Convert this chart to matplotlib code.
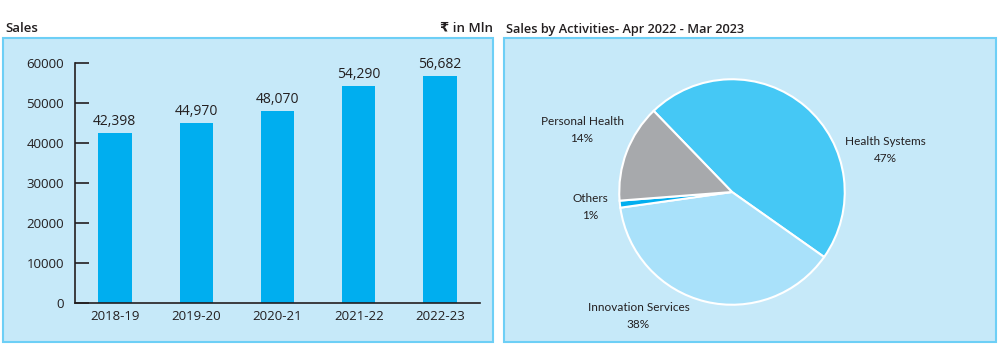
import matplotlib

matplotlib.use("Agg")
import matplotlib.pyplot as plt
from matplotlib.patches import Rectangle

# Sales data (Rs in Mln)
years = ["2018-19", "2019-20", "2020-21", "2021-22", "2022-23"]
sales = [42398, 44970, 48070, 54290, 56682]
yticks = [0, 10000, 20000, 30000, 40000, 50000, 60000]

# Sales by activities
segments = ["Health Systems", "Innovation Services", "Others", "Personal Health"]
shares = [47, 38, 1, 14]

W, H = 1000, 349
FONT = ["Open Sans", "DejaVu Sans"]
TXT = "#231F20"
PANEL = "#C6E9F9"
EDGE = "#6DCFF6"

plt.rcParams["font.family"] = FONT
fig = plt.figure(figsize=(W / 100, H / 100), dpi=100)


def fx(px):
    return px / W


def fy(py):
    return 1 - py / H


# panel backgrounds
for x0, x1 in [(3, 493), (504, 996)]:
    fig.patches.append(Rectangle((fx(x0), fy(342)), fx(x1 - x0), (342 - 38) / H,
                                 transform=fig.transFigure, facecolor=PANEL,
                                 edgecolor=EDGE, linewidth=1.5, zorder=-5))

fig.text(fx(5), fy(29), "Sales", fontsize=9.5, color=TXT, va="center", ha="left",
         weight="semibold")
fig.text(fx(493), fy(29), "₹ in Mln", fontsize=9.5, color=TXT, va="center", ha="right",
         weight="semibold")
fig.text(fx(506), fy(29), "Sales by Activities- Apr 2022 - Mar 2023", fontsize=9.2,
         color=TXT, va="center", ha="left", weight="semibold")

# bar chart
ax = fig.add_axes([fx(75), fy(303), fx(480 - 75), (303 - 63) / H])
ax.set_facecolor("none")
x = range(len(years))
bars = ax.bar(x, sales, width=0.41, color="#00AEEF", zorder=2)
for b, v in zip(bars, sales):
    ax.text(b.get_x() + b.get_width() / 2, v + 1000, f"{v:,}", ha="center", va="bottom",
            fontsize=10, color=TXT, clip_on=False)
ax.set_xlim(-0.49, 4.49)
ax.set_ylim(0, 60000)
ax.set_yticks(yticks)
ax.set_xticks(list(x))
ax.set_xticklabels(years)
ax.tick_params(axis="y", direction="in", length=10, width=1.2, colors=TXT,
               labelsize=9.5, pad=8)
ax.tick_params(axis="x", length=0, colors=TXT, labelsize=9.5, pad=5)
for s in ["top", "right"]:
    ax.spines[s].set_visible(False)
for s in ["left", "bottom"]:
    ax.spines[s].set_color(TXT)
    ax.spines[s].set_linewidth(1.2)

# pie chart
cx, cy, r = 732, 192, 115
pax = fig.add_axes([fx(cx - r), fy(cy + r), fx(2 * r), 2 * r / H])
pax.set_facecolor("none")
colors = ["#45C8F5", "#A9E1FA", "#00AEEF", "#A7A9AC"]
pax.pie(shares, colors=colors, startangle=134, counterclock=False,
        wedgeprops=dict(edgecolor="white", linewidth=1.5))
pax.set_xlim(-1.02, 1.02)
pax.set_ylim(-1.02, 1.02)
pax.set_aspect("equal")
label_pos = {
    "Health Systems": (1.36, 0.37),
    "Innovation Services": (-0.83, -1.1),
    "Others": (-1.26, -0.13),
    "Personal Health": (-1.33, 0.55),
}
for name, v in zip(segments, shares):
    px, py = label_pos[name]
    pax.text(px, py, f"{name}\n{v}%", ha="center", va="center", fontsize=8.5,
             color=TXT, family=["Lato", "DejaVu Sans"], linespacing=1.65, clip_on=False)

fig.savefig("out.png", dpi=100)
